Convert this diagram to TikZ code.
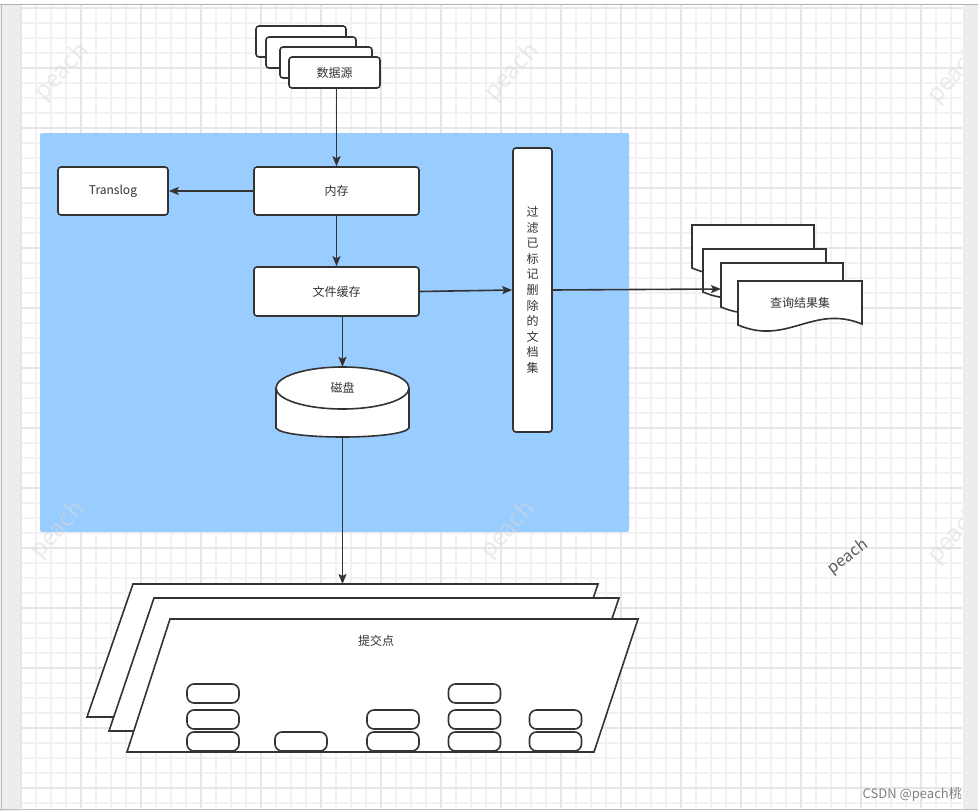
\documentclass[tikz,border=0pt]{standalone}
\usepackage{fontspec}
\setmainfont{Noto Sans CJK SC}
\usetikzlibrary{arrows.meta}
\definecolor{ink}{HTML}{333333}
\definecolor{bluebg}{HTML}{99CCFF}
\definecolor{gridmin}{HTML}{F2F2F2}
\definecolor{gridmaj}{HTML}{E6E6E6}
\definecolor{sidegrey}{HTML}{EDEDED}
\definecolor{wmark}{HTML}{D9D9D9}
\tikzset{
  shp/.style={draw=ink, line width=1.6pt, fill=white},
  box/.style={shp, rounded corners=3pt, inner sep=0pt, text=ink, font=\fontsize{12}{14}\selectfont},
  pill/.style={shp, rounded corners=7pt, minimum width=52pt, minimum height=19pt, inner sep=0pt},
  arr/.style={draw=ink, line width=1.6pt, -{Stealth[length=10pt,width=8pt,inset=2pt]}},
  lbl/.style={text=ink, font=\fontsize{12}{14}\selectfont, inner sep=0pt},
  faintwm/.style={text=wmark, opacity=0.5, font=\fontsize{24}{26}\selectfont, rotate=48, inner sep=0pt},
}
\newcommand\resultdoc[4]{%
  \path[shp] (#1,#2) -- (#3,#2) -- (#3,#4-1) .. controls (#1*0.4+#3*0.6,#4-21) and (#1*0.6+#3*0.4,#4+21) .. (#1,#4) -- cycle;}
\begin{document}
\begin{tikzpicture}[x=1pt,y=-1pt]
\useasboundingbox (0,0) rectangle (978,811);
% page background and grid
\fill[white] (0,0) rectangle (978,811);
\foreach \x in {21,36,...,962} {\draw[gridmin, line width=1.1pt] (\x,4) -- (\x,808);}
\foreach \y in {8,23,...,808} {\draw[gridmin, line width=1.1pt] (21,\y) -- (962,\y);}
\foreach \x in {21,81,...,962} {\draw[gridmaj, line width=1.3pt] (\x,4) -- (\x,808);}
\foreach \y in {8,68,...,808} {\draw[gridmaj, line width=1.3pt] (21,\y) -- (962,\y);}
% blue container
\fill[bluebg, rounded corners=2pt] (40,133) rectangle (629,532);
% data source stack
\node[box, minimum width=90pt, minimum height=31pt] (ds1) at (301,41.5) {};
\node[box, minimum width=90pt, minimum height=31pt] (ds2) at (311,52.5) {};
\node[box, minimum width=92pt, minimum height=31pt] (ds3) at (326,62.5) {};
\node[box, minimum width=91pt, minimum height=31pt] (ds4) at (334.5,72.5) {数据源};
% main boxes
\node[box, minimum width=165pt, minimum height=48pt] (mem) at (336.5,191) {内存};
\node[box, minimum width=110pt, minimum height=48pt] (trans) at (113,191) {Translog};
\node[box, minimum width=165pt, minimum height=49pt] (fc) at (336.5,291.5) {文件缓存};
\node[box, minimum width=39pt, minimum height=284pt, align=center,
      font=\fontsize{12}{15.6}\selectfont] (filt) at (532.5,290)
      {过\\滤\\已\\标\\记\\删\\除\\的\\文\\档\\集};
% disk cylinder
\path[shp] (276,388) -- (276,428) .. controls (283,440) and (402,440) .. (409,428) -- (409,388);
\path[shp] (342.5,388) ellipse [x radius=66.5, y radius=21];
\node[minimum width=133pt, minimum height=69pt, inner sep=0pt] (disk) at (342.5,401.5) {};
\node[lbl] at (342.5,388) {磁盘};
% result documents
\resultdoc{692}{225}{814}{268}
\resultdoc{703}{249}{826}{292}
\resultdoc{721}{263}{843}{307}
\resultdoc{738}{281}{862}{325}
\coordinate (res) at (721,289);
\node[lbl] at (800,303) {查询结果集};
% commit point parallelograms
\path[shp] (133,584) -- (598,584) -- (553,717) -- (87,717) -- cycle;
\path[shp] (154,598) -- (619,598) -- (574,731) -- (109,731) -- cycle;
\path[shp] (170,619) -- (638,619) -- (594,752) -- (127,752) -- cycle;
\coordinate (commit) at (342.5,584);
\node[lbl] at (376,641) {提交点};
% segments
\node[pill] (a1) at (213,693.5) {};
\node[pill] (a2) at (213,719.5) {};
\node[pill] (a3) at (213,741.5) {};
\node[pill] (b1) at (301,741.5) {};
\node[pill] (c1) at (393,719.5) {};
\node[pill] (c2) at (393,741.5) {};
\node[pill] (d1) at (474.5,693.5) {};
\node[pill] (d2) at (474.5,719.5) {};
\node[pill] (d3) at (474.5,741.5) {};
\node[pill] (e1) at (555.5,719.5) {};
\node[pill] (e2) at (555.5,741.5) {};
% connectors
\draw[arr] (mem.north |- ds4.south) -- (mem.north);
\draw[arr] (mem.west) -- (trans.east);
\draw[arr] (mem.south) -- (fc.north);
\draw[arr] (fc.east) -- (filt.west);
\draw[arr] (filt.east) -- (res);
\draw[arr] (disk.north |- fc.south) -- (disk.north);
\draw[arr] (disk.south) -- (commit);
% watermarks
\foreach \p in {(62,72),(512,72),(955,75),(58,530),(508,530),(955,535)}
  {\node[faintwm] at \p {peach};}
\node[text=ink!80, font=\fontsize{16}{18}\selectfont, rotate=37, inner sep=0pt] at (848,557) {peach};
% frame strips
\fill[sidegrey] (0,0) rectangle (20,811);
\draw[black!25, line width=1pt] (1,0) -- (1,811);
\fill[sidegrey] (963,0) rectangle (978,811);
\draw[black!30, line width=0.8pt] (0,4) -- (978,4);
\fill[white] (0,0) rectangle (978,3.6);
\draw[black!25, line width=1pt] (0,809) -- (978,809);
\fill[white] (20,809.5) rectangle (978,811);
% credit
\node[anchor=south east, text=black!50, font=\fontsize{13}{15}\selectfont, inner sep=0pt] at (962,802) {CSDN @peach桃};
\end{tikzpicture}
\end{document}
